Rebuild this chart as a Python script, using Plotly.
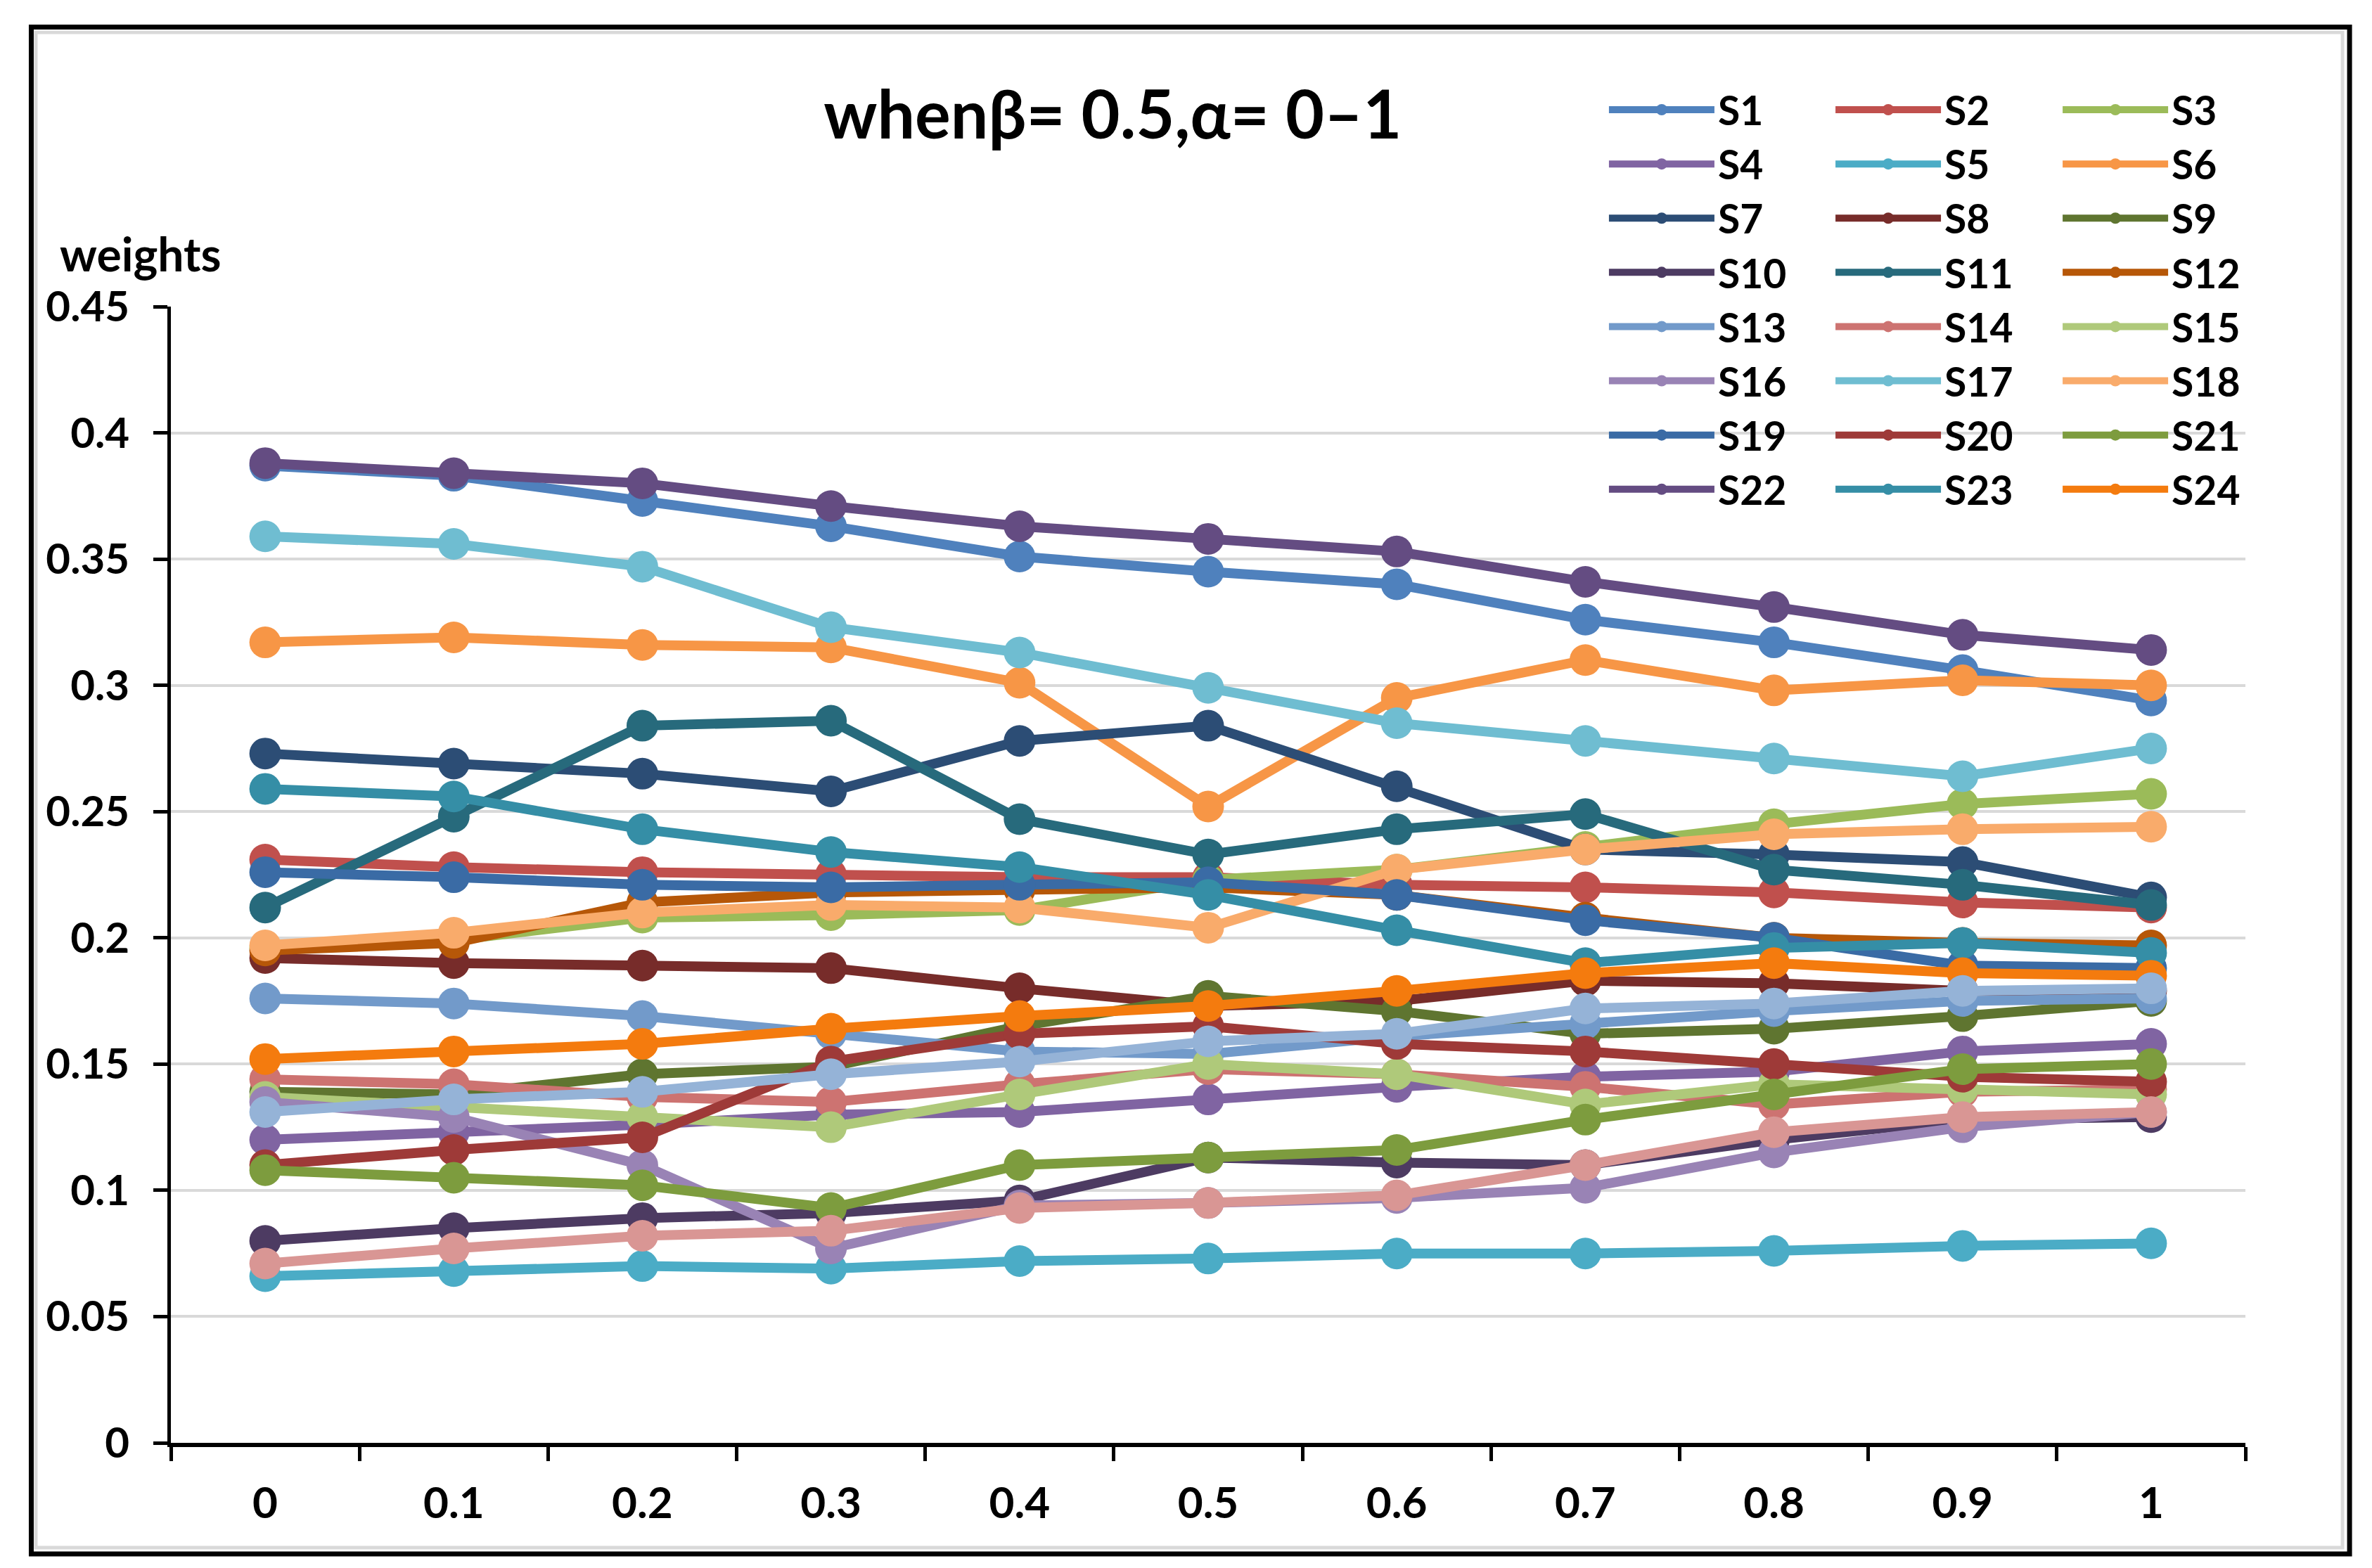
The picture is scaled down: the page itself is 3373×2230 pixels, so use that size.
import plotly.graph_objects as go

alpha_labels = ["0", "0.1", "0.2", "0.3", "0.4", "0.5", "0.6", "0.7", "0.8", "0.9", "1"]

S1 = [0.387, 0.383, 0.373, 0.363, 0.351, 0.345, 0.340, 0.326, 0.317, 0.306, 0.294]
S2 = [0.231, 0.228, 0.226, 0.225, 0.224, 0.224, 0.221, 0.220, 0.218, 0.214, 0.212]
S3 = [0.196, 0.199, 0.208, 0.209, 0.211, 0.223, 0.227, 0.236, 0.245, 0.253, 0.257]
S4 = [0.120, 0.123, 0.126, 0.130, 0.131, 0.136, 0.141, 0.145, 0.147, 0.155, 0.158]
S5 = [0.066, 0.068, 0.070, 0.069, 0.072, 0.073, 0.075, 0.075, 0.076, 0.078, 0.079]
S6 = [0.317, 0.319, 0.316, 0.315, 0.301, 0.252, 0.295, 0.310, 0.298, 0.302, 0.300]
S7 = [0.273, 0.269, 0.265, 0.258, 0.278, 0.284, 0.260, 0.235, 0.233, 0.230, 0.216]
S8 = [0.192, 0.190, 0.189, 0.188, 0.180, 0.173, 0.175, 0.183, 0.182, 0.179, 0.179]
S9 = [0.139, 0.138, 0.146, 0.149, 0.165, 0.177, 0.171, 0.162, 0.164, 0.169, 0.175]
S10 = [0.080, 0.085, 0.089, 0.091, 0.096, 0.113, 0.111, 0.110, 0.120, 0.128, 0.129]
S11 = [0.212, 0.248, 0.284, 0.286, 0.247, 0.233, 0.243, 0.249, 0.227, 0.221, 0.213]
S12 = [0.195, 0.198, 0.214, 0.218, 0.219, 0.220, 0.217, 0.208, 0.200, 0.198, 0.197]
S13 = [0.176, 0.174, 0.169, 0.162, 0.155, 0.154, 0.161, 0.166, 0.171, 0.175, 0.176]
S14 = [0.144, 0.142, 0.137, 0.135, 0.142, 0.148, 0.146, 0.141, 0.134, 0.139, 0.140]
S15 = [0.137, 0.133, 0.129, 0.125, 0.138, 0.150, 0.146, 0.134, 0.142, 0.140, 0.138]
S16 = [0.135, 0.129, 0.110, 0.077, 0.094, 0.095, 0.097, 0.101, 0.115, 0.125, 0.131]
S17 = [0.359, 0.356, 0.347, 0.323, 0.313, 0.299, 0.285, 0.278, 0.271, 0.264, 0.275]
S18 = [0.197, 0.202, 0.210, 0.213, 0.212, 0.204, 0.227, 0.235, 0.241, 0.243, 0.244]
S19 = [0.226, 0.224, 0.221, 0.220, 0.221, 0.222, 0.217, 0.207, 0.200, 0.189, 0.188]
S20 = [0.110, 0.116, 0.121, 0.151, 0.162, 0.165, 0.158, 0.155, 0.150, 0.145, 0.143]
S21 = [0.108, 0.105, 0.102, 0.093, 0.110, 0.113, 0.116, 0.128, 0.138, 0.148, 0.150]
S22 = [0.388, 0.384, 0.380, 0.371, 0.363, 0.358, 0.353, 0.341, 0.331, 0.320, 0.314]
S23 = [0.259, 0.256, 0.243, 0.234, 0.228, 0.217, 0.203, 0.190, 0.196, 0.198, 0.194]
S24 = [0.152, 0.155, 0.158, 0.164, 0.169, 0.173, 0.179, 0.186, 0.190, 0.186, 0.185]
S25 = [0.131, 0.136, 0.139, 0.146, 0.151, 0.159, 0.162, 0.172, 0.174, 0.179, 0.180]
S26 = [0.071, 0.077, 0.082, 0.084, 0.093, 0.095, 0.098, 0.110, 0.123, 0.129, 0.131]

series_names = [f"S{i}" for i in range(1, 27)]
series_values = [S1, S2, S3, S4, S5, S6, S7, S8, S9, S10, S11, S12, S13,
                 S14, S15, S16, S17, S18, S19, S20, S21, S22, S23, S24, S25, S26]
series_colors = ["#4F81BD", "#C0504D", "#9BBB59", "#8064A2", "#4BACC6", "#F79646",
                 "#2C4D75", "#772C2A", "#5F7530", "#4D3B62", "#276A7C", "#B65708",
                 "#729ACA", "#CD7371", "#AFC97A", "#9983B5", "#6FBDD1", "#F9AB6B",
                 "#3A6BA5", "#9E3A38", "#7D9C3E", "#644C82", "#358EA6", "#F47B0E",
                 "#95B3D7", "#D99694"]

FONT = "Lato"
fig = go.Figure()
legend_ids = ["legend", "legend2", "legend3"]
for i, (name, vals, col) in enumerate(zip(series_names, series_values, series_colors)):
    fig.add_trace(go.Scatter(
        x=alpha_labels, y=vals, name=name, mode="lines+markers",
        line=dict(color=col, width=14),
        marker=dict(color=col, size=45),
        legend=legend_ids[i % 3],
        showlegend=i < 24,
    ))

leg_common = dict(yanchor="top", xanchor="left", bgcolor="rgba(0,0,0,0)",
                  font=dict(family=FONT, size=57, color="black", weight="bold"),
                  itemwidth=150, orientation="v", tracegroupgap=0)

xtick_font = dict(family=FONT, size=62, color="black", weight="bold")
ytick_font = dict(family=FONT, size=60, color="black", weight="bold")

fig.update_layout(
    width=3373, height=2230,
    margin=dict(l=235, r=188, t=428, b=186, autoexpand=False),
    paper_bgcolor="white", plot_bgcolor="white",
    title=dict(text="whenβ= 0.5,α= 0–1", xref="paper", x=0.454, xanchor="center",
               yref="container", y=0.930, yanchor="middle",
               font=dict(family=FONT, size=95, color="black", weight="bold")),
    legend=dict(x=0.6915, y=1.2002, **leg_common),
    legend2=dict(x=0.8007, y=1.2002, **leg_common),
    legend3=dict(x=0.9102, y=1.2002, **leg_common),
    xaxis=dict(type="category", range=[-0.5, 10.5], tickson="boundaries",
               ticks="outside", ticklen=20, tickwidth=5, tickcolor="black",
               showline=True, linecolor="black", linewidth=6, showgrid=False,
               tickfont=xtick_font, ticklabelstandoff=27, zeroline=False),
    yaxis=dict(range=[0, 0.45], dtick=0.05, tick0=0,
               ticks="outside", ticklen=20, tickwidth=5, tickcolor="black",
               showline=True, linecolor="black", linewidth=5,
               showgrid=True, gridcolor="#d9d9d9", gridwidth=4, zeroline=False,
               tickfont=ytick_font, ticklabelstandoff=22),
    xaxis2=dict(overlaying="x", anchor="y", side="bottom", type="linear",
                range=[-0.5, 10.5], tick0=-0.5, dtick=1, ticks="inside", ticklen=20,
                tickwidth=5, tickcolor="black", showticklabels=False,
                showgrid=False, zeroline=False, showline=False),
    yaxis2=dict(overlaying="y", anchor="x", side="left", range=[0, 0.45],
                tick0=0, dtick=0.05, ticks="inside", ticklen=20, tickwidth=5,
                tickcolor="black", showticklabels=False, showgrid=False,
                zeroline=False, showline=False),
    annotations=[dict(text="weights", xref="paper", yref="paper", x=-0.0542, y=1.047,
                      xanchor="left", yanchor="middle", showarrow=False,
                      font=dict(family=FONT, size=66, color="black", weight="bold"))],
    shapes=[
        dict(type="rect", xref="paper", yref="paper", x0=-0.0651, x1=1.0468,
             y0=-0.0922, y1=1.2413, line=dict(color="#d9d9d9", width=5), layer="below"),
        dict(type="rect", xref="paper", yref="paper", x0=-0.0673, x1=1.0502,
             y0=-0.0978, y1=1.246, line=dict(color="black", width=7), layer="above"),
    ],
)

fig.write_html("out.html")
